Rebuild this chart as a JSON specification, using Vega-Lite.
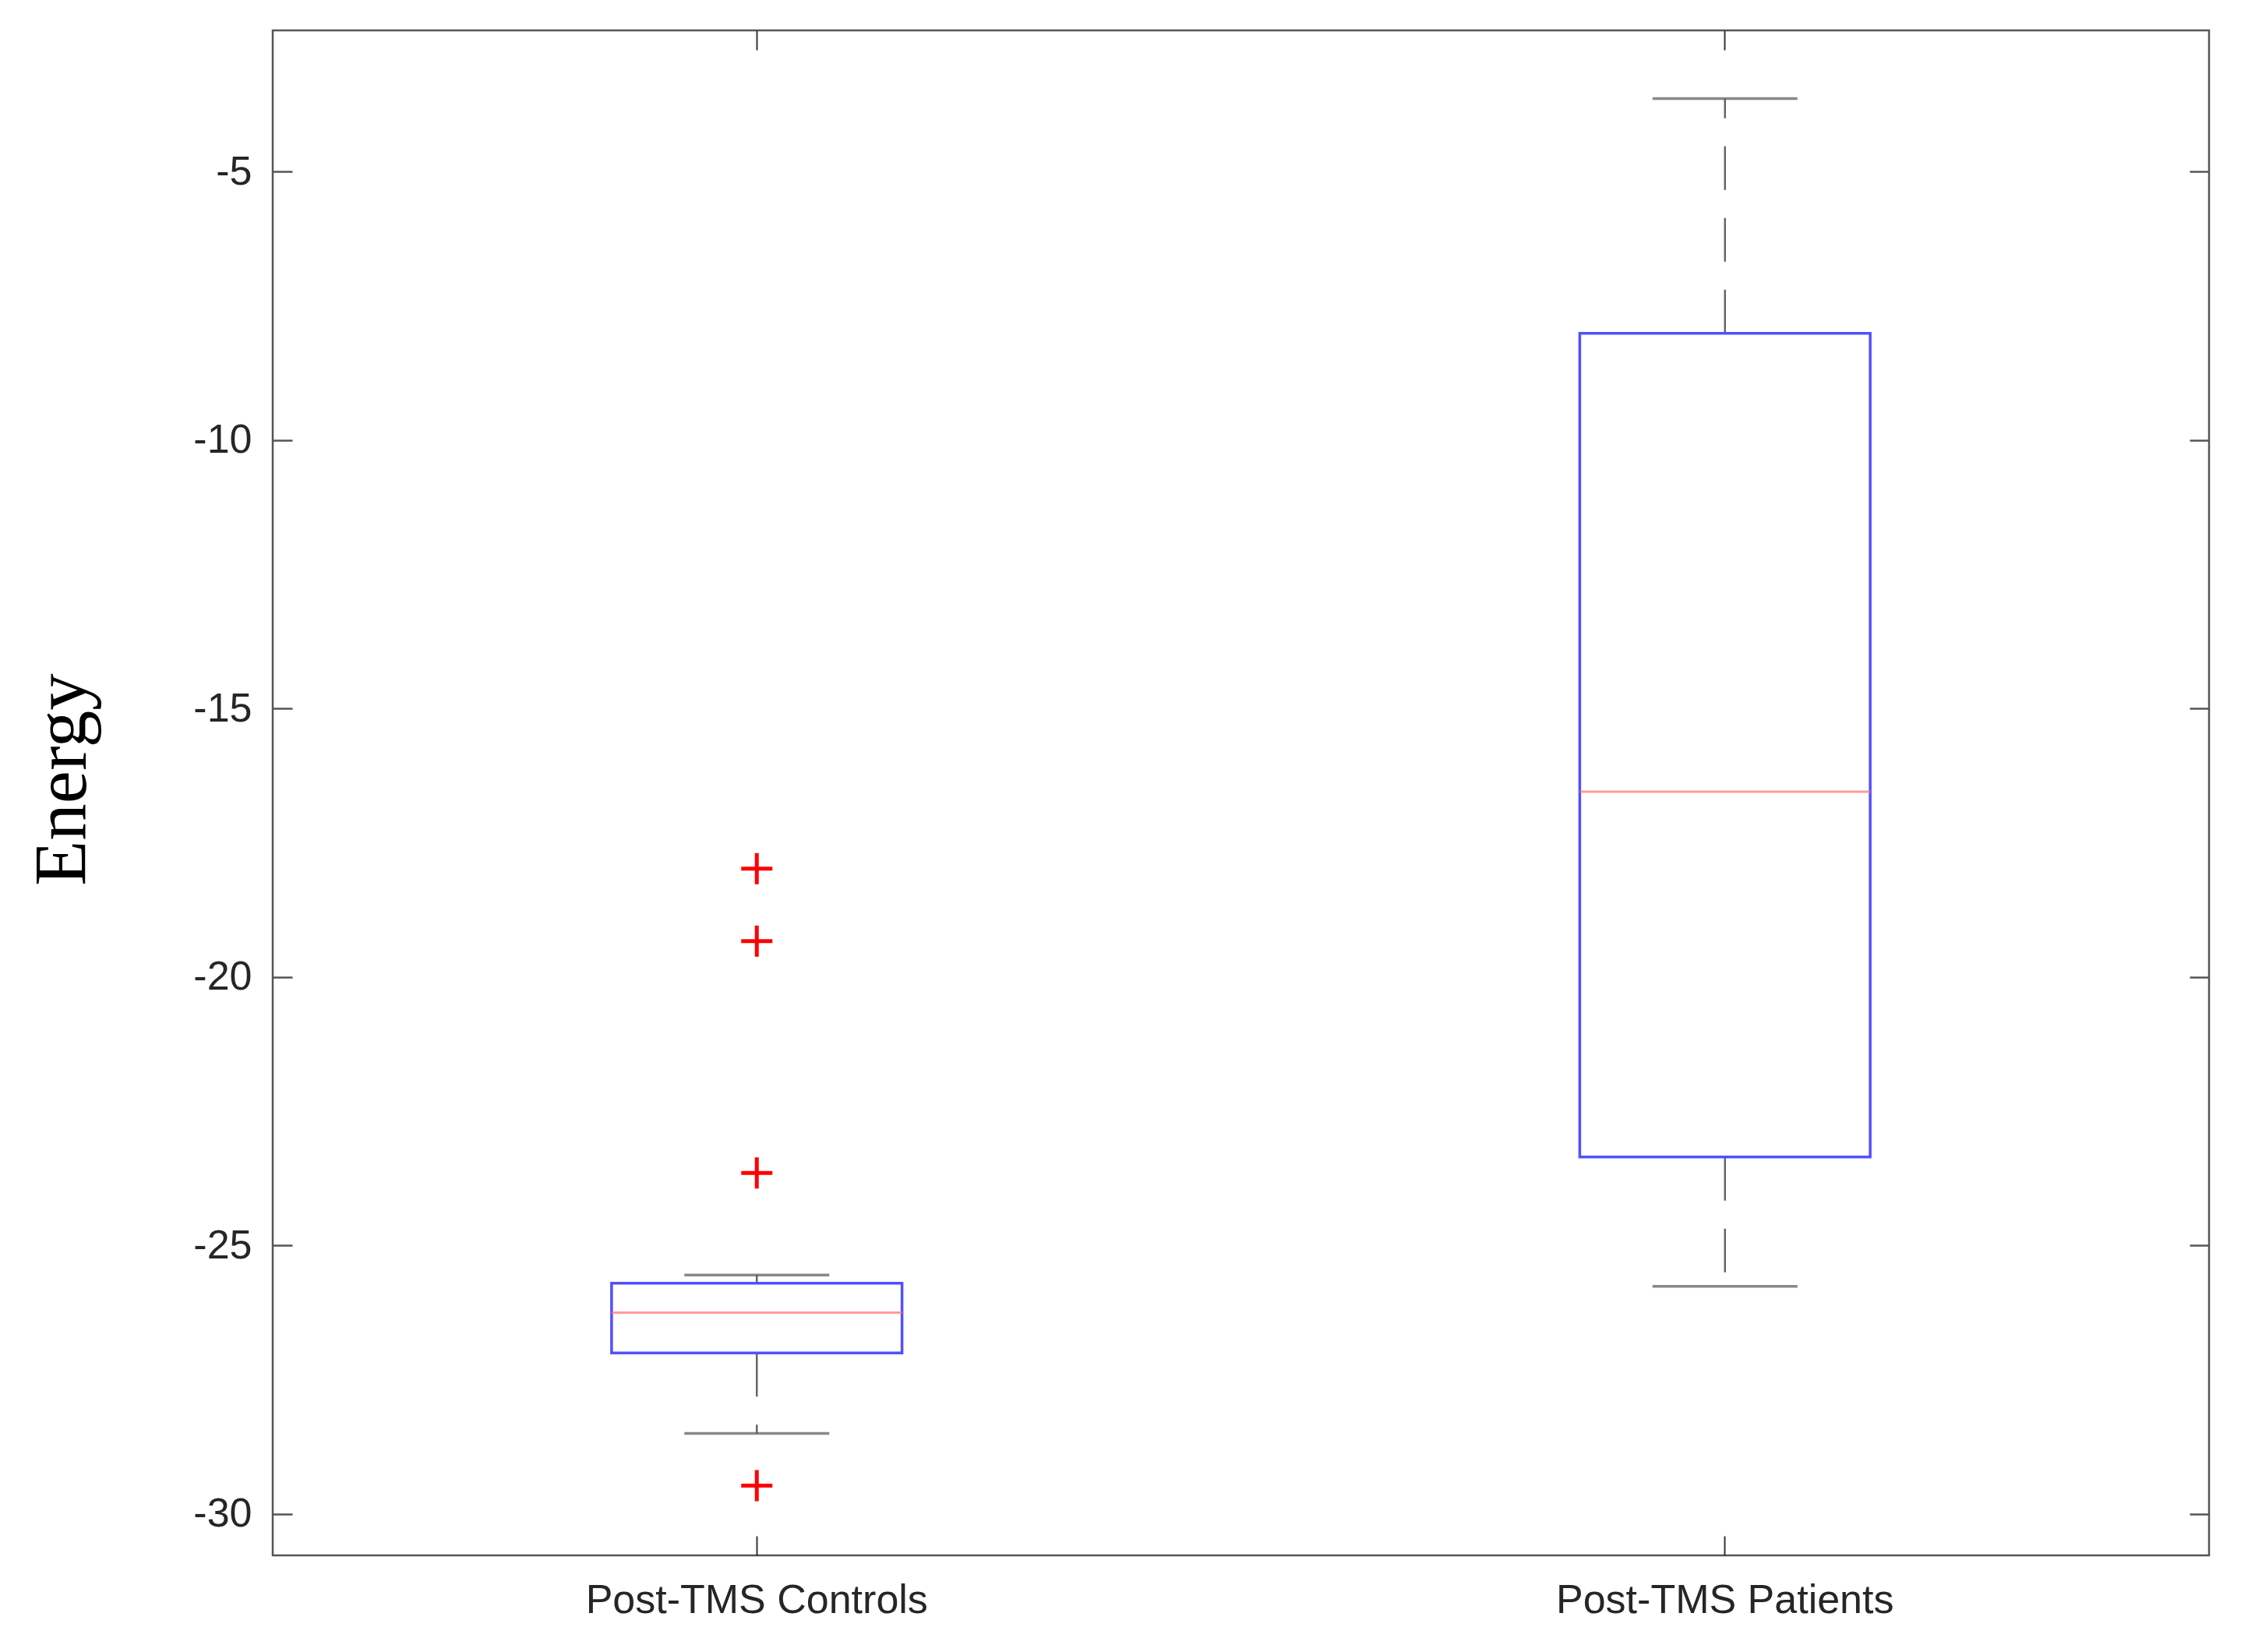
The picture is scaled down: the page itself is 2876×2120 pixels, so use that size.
{
  "$schema": "https://vega.github.io/schema/vega-lite/v6.json",
  "autosize": "none",
  "width": 2485,
  "height": 1957,
  "padding": {"left": 350, "top": 39, "right": 41, "bottom": 124},
  "background": "white",
  "config": {
    "view": {"stroke": "#555555", "strokeWidth": 2.5},
    "axis": {"grid": false, "domain": false}
  },
  "datasets": {
    "summary": [
      {"group": "Post-TMS Controls", "lower": -28.5, "q1": -27.0, "median": -26.25, "q3": -25.7, "upper": -25.55},
      {"group": "Post-TMS Patients", "lower": -25.76, "q1": -23.35, "median": -16.55, "q3": -8.01, "upper": -3.64}
    ],
    "outliers": [
      {"group": "Post-TMS Controls", "value": -17.98},
      {"group": "Post-TMS Controls", "value": -19.33},
      {"group": "Post-TMS Controls", "value": -23.65},
      {"group": "Post-TMS Controls", "value": -29.47}
    ]
  },
  "resolve": {"axis": {"x": "independent", "y": "independent"}},
  "layer": [
    {
      "data": {"name": "summary"},
      "mark": {"type": "rule", "color": "#666666", "strokeWidth": 2.5, "strokeDash": [56, 36]},
      "encoding": {
        "x": {
          "field": "group", "type": "nominal",
          "scale": {"paddingInner": 0, "paddingOuter": 0},
          "axis": {
            "orient": "bottom", "title": null, "labelAngle": 0, "labelLimit": 0,
            "labelFont": "Liberation Sans", "labelFontSize": 52, "labelColor": "#262626",
            "tickSize": -25, "tickWidth": 2, "tickColor": "#333333", "labelPadding": 57
          }
        },
        "y": {
          "field": "q3", "type": "quantitative",
          "scale": {"domain": [-30.77, -2.37], "nice": false, "zero": false},
          "axis": {
            "orient": "left", "values": [-30, -25, -20, -15, -10, -5],
            "labelExpr": "toString(datum.value)",
            "labelFont": "Liberation Sans", "labelFontSize": 52, "labelColor": "#262626",
            "tickSize": -25, "tickWidth": 2.5, "tickColor": "#555555", "labelPadding": 52,
            "title": "Energy", "titleFont": "Liberation Serif", "titleFontSize": 95,
            "titleFontWeight": "normal", "titleColor": "#000000",
            "titleAngle": -90, "titleAlign": "center", "titleBaseline": "alphabetic",
            "titleX": -241, "titleY": 961
          }
        },
        "y2": {"field": "upper"}
      }
    },
    {
      "data": {"name": "summary"},
      "mark": {"type": "rule", "color": "#666666", "strokeWidth": 2.5, "strokeDash": [56, 36]},
      "encoding": {
        "x": {
          "field": "group", "type": "nominal",
          "axis": {"orient": "top", "title": null, "labels": false, "tickSize": -25, "tickWidth": 2, "tickColor": "#333333"}
        },
        "y": {
          "field": "q1", "type": "quantitative",
          "axis": {"orient": "right", "title": null, "labels": false, "values": [-30, -25, -20, -15, -10, -5], "tickSize": -25, "tickWidth": 2.5, "tickColor": "#555555"}
        },
        "y2": {"field": "lower"}
      }
    },
    {
      "data": {"name": "summary"},
      "mark": {"type": "bar", "width": {"band": 0.3}, "fill": "white", "fillOpacity": 0, "stroke": "#5050ff", "strokeWidth": 3.5},
      "encoding": {
        "x": {"field": "group", "type": "nominal", "axis": null},
        "y": {"field": "q1", "type": "quantitative", "axis": null},
        "y2": {"field": "q3"}
      }
    },
    {
      "data": {"name": "summary"},
      "mark": {"type": "tick", "orient": "horizontal", "size": 373, "thickness": 3, "color": "#ff7070"},
      "encoding": {
        "x": {"field": "group", "type": "nominal", "axis": null},
        "y": {"field": "median", "type": "quantitative", "axis": null}
      }
    },
    {
      "data": {"name": "summary"},
      "mark": {"type": "tick", "orient": "horizontal", "size": 186, "thickness": 3.5, "color": "#555555"},
      "encoding": {
        "x": {"field": "group", "type": "nominal", "axis": null},
        "y": {"field": "upper", "type": "quantitative", "axis": null}
      }
    },
    {
      "data": {"name": "summary"},
      "mark": {"type": "tick", "orient": "horizontal", "size": 186, "thickness": 3.5, "color": "#555555"},
      "encoding": {
        "x": {"field": "group", "type": "nominal", "axis": null},
        "y": {"field": "lower", "type": "quantitative", "axis": null}
      }
    },
    {
      "data": {"name": "outliers"},
      "mark": {"type": "point", "shape": "M-1,0H1M0,-1V1", "filled": false, "size": 1600, "stroke": "#ff0000", "strokeWidth": 5, "opacity": 1},
      "encoding": {
        "x": {"field": "group", "type": "nominal", "axis": null},
        "y": {"field": "value", "type": "quantitative", "axis": null}
      }
    }
  ]
}
